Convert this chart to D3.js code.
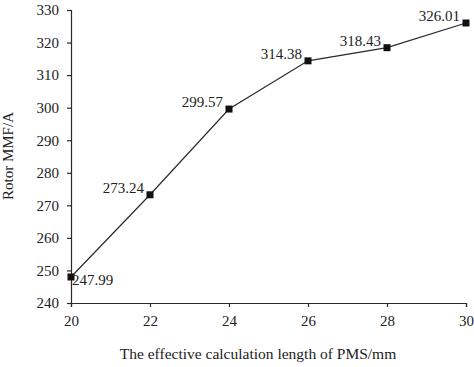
<!DOCTYPE html>
<html><head><meta charset="utf-8">
<script src="https://cdn.jsdelivr.net/npm/d3@7"></script>
<style>body{margin:0;background:#fff}</style>
</head><body>
<svg id="c" width="474" height="367"></svg>
<script>
const xValues = [20, 22, 24, 26, 28, 30];
const yValues = [247.99, 273.24, 299.57, 314.38, 318.43, 326.01];
const xTicks = [20, 22, 24, 26, 28, 30];
const yTicks = [240, 250, 260, 270, 280, 290, 300, 310, 320, 330];
const xTitle = "The effective calculation length of PMS/mm";
const yTitle = "Rotor MMF/A";

const svg = d3.select("#c");
const font = "'Liberation Serif', 'Times New Roman', serif";
const x = d3.scaleLinear().domain([20, 30]).range([71, 466]);
const y = d3.scaleLinear().domain([240, 330]).range([303, 10]);
const col = "#2a2a2a";

const gx = svg.append("g").attr("transform", "translate(0,303)")
  .call(d3.axisBottom(x).tickValues(xTicks).tickSizeOuter(0).tickSize(4).tickPadding(8).tickFormat(d3.format("d")));
const gy = svg.append("g").attr("transform", "translate(71,0)")
  .call(d3.axisLeft(y).tickValues(yTicks).tickSizeOuter(0).tickSize(4).tickPadding(8).tickFormat(d3.format("d")));
[gx, gy].forEach(g => {
  g.selectAll("path,line").attr("stroke", col).attr("stroke-width", 1.2);
  g.selectAll("text").attr("font-family", font).attr("font-size", 15).attr("fill", "#222");
});

const line = d3.line().x((d, i) => x(xValues[i])).y(d => y(d));
svg.append("path").datum(yValues).attr("d", line)
  .attr("fill", "none").attr("stroke", col).attr("stroke-width", 1.2);

svg.selectAll("rect.pt").data(yValues).join("rect").attr("class", "pt")
  .attr("x", (d, i) => x(xValues[i]) - 3.5).attr("y", d => y(d) - 3.5)
  .attr("width", 7).attr("height", 7).attr("fill", "#111");

svg.selectAll("text.lbl").data(yValues).join("text").attr("class", "lbl")
  .attr("x", (d, i) => i === 0 ? x(xValues[i]) + 1 : x(xValues[i]) - 6)
  .attr("y", (d, i) => i === 0 ? y(d) + 8 : y(d) - 2)
  .attr("text-anchor", (d, i) => i === 0 ? "start" : "end")
  .attr("font-family", font).attr("font-size", 15).attr("fill", "#222")
  .text(d => d.toFixed(2));

svg.append("text").attr("x", 258).attr("y", 359).attr("text-anchor", "middle")
  .attr("font-family", font).attr("font-size", 15.5).attr("fill", "#222").text(xTitle);
svg.append("text").attr("transform", "translate(13,156) rotate(-90)").attr("text-anchor", "middle")
  .attr("font-family", font).attr("font-size", 15).attr("fill", "#222").text(yTitle);
</script>
</body></html>
